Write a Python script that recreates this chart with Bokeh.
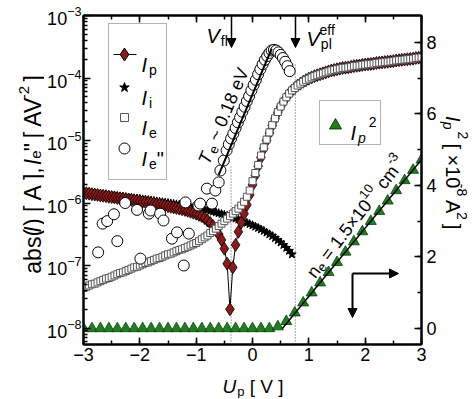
import math
import numpy as np
from bokeh.plotting import figure
from bokeh.layouts import row, column
from bokeh.models import (Range1d, LinearAxis, LinearScale, SingleIntervalTicker, FixedTicker,
                          Label, BoxAnnotation, Arrow, NormalHead)
from bokeh.embed import file_html
from bokeh.resources import INLINE

FONT = "Liberation Sans"

# ---------------- data ----------------
U_p = np.round(np.linspace(-3.0, 3.0, 121), 2)          # probe voltage sweep, 0.05 V

# log10 |I_p| [A]
IP_LOG = [-5.84, -5.845, -5.85, -5.86, -5.865, -5.87, -5.88, -5.885, -5.89, -5.90,
          -5.905, -5.91, -5.92, -5.925, -5.93, -5.94, -5.945, -5.95, -5.96, -5.965,
          -5.97, -5.98, -5.985, -5.99, -6.00, -6.01, -6.015, -6.025, -6.03, -6.04,
          -6.05, -6.06, -6.07, -6.08, -6.09, -6.10, -6.11, -6.125, -6.14, -6.155,
          -6.17, -6.19, -6.21, -6.24, -6.28, -6.32, -6.37, -6.43, -6.50, -6.59,
          -6.73, -6.97, -7.70, -7.03, -6.67, -6.46, -6.31, -6.17, -6.03, -5.87,
          -5.71, -5.56, -5.41, -5.27, -5.13, -5.00, -4.88, -4.76, -4.65, -4.55,
          -4.46, -4.38, -4.31, -4.25, -4.20,
          -4.16, -4.12, -4.09, -4.06, -4.035, -4.01, -3.99, -3.97, -3.955, -3.94,
          -3.925, -3.91, -3.895, -3.88, -3.87, -3.86, -3.85, -3.84, -3.835, -3.83,
          -3.82, -3.81, -3.805, -3.80, -3.79, -3.785, -3.78, -3.775, -3.77, -3.76,
          -3.755, -3.75, -3.745, -3.74, -3.735, -3.73, -3.72, -3.715, -3.71, -3.705,
          -3.70, -3.695, -3.69, -3.68, -3.675, -3.67]

# log10 I_e [A]
IE_LOG = [-7.36, -7.34, -7.32, -7.30, -7.29, -7.27, -7.25, -7.23, -7.21, -7.20,
          -7.18, -7.16, -7.14, -7.12, -7.11, -7.09, -7.07, -7.05, -7.03, -7.02,
          -7.00, -6.98, -6.96, -6.95, -6.93, -6.91, -6.89, -6.88, -6.86, -6.84,
          -6.82, -6.81, -6.79, -6.77, -6.75, -6.74, -6.72, -6.70, -6.68, -6.66,
          -6.64, -6.61, -6.58, -6.55, -6.52, -6.48, -6.45, -6.41, -6.37, -6.33,
          -6.29, -6.25, -6.21, -6.17, -6.13, -6.09, -6.04, -5.98, -5.90, -5.80,
          -5.65, -5.52, -5.39, -5.24, -5.11, -4.985, -4.87, -4.75, -4.645, -4.545,
          -4.457, -4.378, -4.308, -4.249, -4.199,
          -4.16, -4.12, -4.09, -4.06, -4.035, -4.01, -3.99, -3.97, -3.955, -3.94,
          -3.925, -3.91, -3.895, -3.88, -3.87, -3.86, -3.85, -3.84, -3.835, -3.83,
          -3.82, -3.81, -3.805, -3.80, -3.79, -3.785, -3.78, -3.775, -3.77, -3.76,
          -3.755, -3.75, -3.745, -3.74, -3.735, -3.73, -3.72, -3.715, -3.71, -3.705,
          -3.70, -3.695, -3.69, -3.68, -3.675, -3.67]

# |I_i| in units of 1e-7 A, from -3.00 V to 0.70 V
U_i = U_p[:75]
II_E7 = [14.80, 14.64, 14.48, 14.32, 14.16, 14.00, 13.84, 13.68, 13.52, 13.36,
         13.20, 13.04, 12.88, 12.72, 12.56, 12.40, 12.24, 12.08, 11.92, 11.76,
         11.60, 11.44, 11.28, 11.12, 10.96, 10.80, 10.64, 10.48, 10.32, 10.16,
         10.00, 9.84, 9.68, 9.52, 9.36, 9.20, 9.04, 8.88, 8.72, 8.56,
         8.40, 8.24, 8.08, 7.92,
         7.71, 7.50, 7.30, 7.09, 6.88, 6.68, 6.47, 6.26, 6.06, 5.85,
         5.64, 5.44, 5.23, 5.02, 4.82, 4.61, 4.40, 4.20, 3.99, 3.78,
         3.58, 3.37, 3.16, 2.96, 2.75, 2.54, 2.34, 2.13, 1.92, 1.72, 1.51]

# I_e'' [A V^-2] (log10), only the positive points appear
U_E2 = [-2.74, -2.66, -2.58, -2.46, -2.40, -2.26, -2.05, -1.99, -1.84, -1.81,
        -1.64, -1.58, -1.43, -1.34, -1.22, -1.19, -1.13, -0.96, -0.93, -0.81,
        -0.72, -0.66, -0.60, -0.57, -0.51, -0.46, -0.42, -0.38, -0.34, -0.30,
        -0.26, -0.22, -0.18, -0.14, -0.10, -0.06, -0.02, 0.02, 0.06, 0.10,
        0.14, 0.18, 0.22, 0.26, 0.30, 0.34, 0.38, 0.42, 0.46, 0.50,
        0.54, 0.58, 0.62, 0.66]
IE2_LOG = [-6.79, -6.33, -6.29, -6.18, -6.61, -6.00, -6.11, -6.89, -6.17, -6.12,
           -6.17, -6.28, -6.57, -6.47, -7.00, -5.99, -6.49, -6.04, -6.01, -5.77,
           -6.01, -5.80, -5.67, -5.48, -5.32, -5.16, -5.06, -4.97, -4.89, -4.80,
           -4.71, -4.63, -4.54, -4.46, -4.37, -4.29, -4.20, -4.11, -4.03, -3.94,
           -3.86, -3.78, -3.71, -3.65, -3.60, -3.56, -3.55, -3.56, -3.59, -3.63,
           -3.68, -3.74, -3.81, -3.89]

# exponential fit to I_e'' (T_e ~ 0.18 eV)
TE_FIT_U = [-0.60, 0.34]
TE_FIT_LOG = [-5.55, -3.53]

# I_p^2 in units of 1e-8 A^2 (right axis), 0.15 V steps
U_sq = np.round(np.linspace(-3.0, 3.0, 41), 2)
IP2 = [0.0, 0.0, 0.0, 0.0, 0.0, 0.0, 0.0, 0.0, 0.0, 0.0,
       0.0, 0.0, 0.0, 0.0, 0.0, 0.0, 0.0, 0.0, 0.0, 0.0,
       0.0, 0.0, 0.0, 0.05, 0.20, 0.44, 0.72, 1.00, 1.28, 1.57,
       1.85, 2.14, 2.43, 2.71, 3.00, 3.28, 3.57, 3.86, 4.14, 4.43, 4.72]
NE_FIT_U = [0.53, 3.0]
NE_FIT_V = [0.0, 4.72]

V_FL, V_PL = -0.38, 0.76
V_FL_TOP, V_PL_TOP = 3.8e-6, 1.7e-4

I_p = 10 ** np.array(IP_LOG)
I_e = 10 ** np.array(IE_LOG)
I_i = np.array(II_E7) * 1e-7
I_e2 = 10 ** np.array(IE2_LOG)
TE_FIT_I = 10 ** np.array(TE_FIT_LOG)

# ---------------- layout (page pixels) ----------------
LEFT, RIGHT, TOP, BOTTOM = 80, 418, 15, 344      # frame edges
MAIN_X0, MAIN_X1 = 44, 436                        # main figure spans these page x
MAIN_H = 367                                      # main figure height (page y 0..367)
PAGE_W, PAGE_H = 474, 398
XMIN, XMAX = -3.0, 3.0
YLO, YHI = -8.264, -3.0
RLO, RHI = -0.448, 8.755


def X(px):
    return XMIN + (px - LEFT) / (RIGHT - LEFT) * (XMAX - XMIN)


def Y(py):
    return 10 ** (YHI - (py - TOP) / (BOTTOM - TOP) * (YHI - YLO))


p = figure(frame_width=RIGHT - LEFT, frame_height=BOTTOM - TOP,
           x_range=Range1d(XMIN, XMAX), y_range=Range1d(10 ** YLO, 10 ** YHI),
           y_axis_type="log", output_backend="svg", toolbar_location=None,
           min_border_left=LEFT - MAIN_X0, min_border_top=TOP,
           min_border_right=MAIN_X1 - RIGHT, min_border_bottom=MAIN_H - BOTTOM)
p.extra_y_ranges = {"r": Range1d(RLO, RHI)}
p.extra_y_scales = {"r": LinearScale()}
p.grid.visible = False
p.outline_line_color = "black"
p.outline_line_width = 2
p.background_fill_color = "white"
p.border_fill_color = "white"


def style_axis(ax, standoff):
    ax.axis_line_width = 2
    ax.axis_line_color = "black"
    ax.major_tick_in = 7
    ax.major_tick_out = 0
    ax.minor_tick_in = 4
    ax.minor_tick_out = 0
    ax.major_tick_line_width = 1.5
    ax.minor_tick_line_width = 1.5
    ax.major_label_text_font = FONT
    ax.major_label_text_font_size = "18px"
    ax.major_label_text_color = "black"
    ax.major_label_standoff = standoff


xb = p.xaxis[0]
xb.ticker = SingleIntervalTicker(interval=1, num_minor_ticks=2)
style_axis(xb, 3)

xt = LinearAxis(ticker=SingleIntervalTicker(interval=1, num_minor_ticks=2))
style_axis(xt, 0)
xt.major_label_text_font_size = "1px"
xt.major_label_text_color = None
p.add_layout(xt, "above")

yl = p.yaxis[0]
yl.ticker = FixedTicker(ticks=[1e-8, 1e-7, 1e-6, 1e-5, 1e-4, 1e-3],
                        minor_ticks=[k * 10.0 ** e for e in range(-9, -3) for k in range(2, 10)])
style_axis(yl, 2)

yr = LinearAxis(y_range_name="r", ticker=SingleIntervalTicker(interval=2, num_minor_ticks=2))
style_axis(yr, 5)
p.add_layout(yr, "right")

# ---------------- glyphs ----------------
y_bot = 10 ** YLO
p.segment(x0=[V_FL, V_PL], y0=[y_bot, y_bot], x1=[V_FL, V_PL], y1=[V_FL_TOP, V_PL_TOP],
          line_color="#555555", line_width=1, line_dash="1 2")

p.scatter(U_i, I_i, marker="star", size=9, fill_color="black", line_color="black")
p.line(U_p, I_p, line_color="black", line_width=1)
p.scatter(U_p, I_p, marker="diamond", size=13, fill_color="#8b1a1a", line_color="black", line_width=0.8)
p.scatter(U_p, I_e, marker="square", size=7, fill_color="white", line_color="#555555", line_width=1)
p.scatter(U_E2, I_e2, marker="circle", size=11, fill_color="white", line_color="black", line_width=1)
p.line(TE_FIT_U, TE_FIT_I, line_color="black", line_width=2)

p.scatter(U_sq, IP2, marker="triangle", size=11, fill_color="#1f7f1f", line_color="#0b3d0b",
          line_width=0.8, y_range_name="r")
p.line(NE_FIT_U, NE_FIT_V, line_color="black", line_width=1.5, y_range_name="r")


# ---------------- text figures for the axis titles ----------------
def text_fig(w, h):
    f = figure(width=w, height=h, x_range=Range1d(0, w), y_range=Range1d(0, h),
               output_backend="svg", toolbar_location=None, title=None,
               min_border=0, min_border_left=0, min_border_right=0,
               min_border_top=0, min_border_bottom=0,
               x_axis_location=None, y_axis_location=None)
    f.outline_line_color = None
    f.grid.visible = False
    f.background_fill_color = "white"
    f.border_fill_color = "white"
    return f


f_left = text_fig(MAIN_X0, MAIN_H)
f_right = text_fig(PAGE_W - MAIN_X1, MAIN_H)
f_bot = text_fig(PAGE_W, PAGE_H - MAIN_H)

# page px -> figure coordinates
MAPS = {
    "main": (p, X, Y),
    "left": (f_left, lambda px: px, lambda py: MAIN_H - py),
    "right": (f_right, lambda px: px - MAIN_X1, lambda py: MAIN_H - py),
    "bottom": (f_bot, lambda px: px, lambda py: PAGE_H - py),
}

W = {' ': 278, '"': 355, '(': 333, ')': 333, ',': 278, '-': 333, '.': 278, '=': 584,
     '~': 584, '\u00d7': 584, 'A': 667, 'I': 278, 'T': 611, 'U': 722, 'V': 667,
     '[': 278, ']': 278, 'a': 556, 'b': 556, 'c': 500, 'e': 556, 'f': 278, 'i': 222,
     'l': 222, 'm': 833, 'n': 556, 'p': 556, 's': 500}


def tw(s, size):
    return sum(W.get(c, 556) for c in s) * size / 1000.0


def rich(runs, x0, y0, angle_deg=0.0, where="main"):
    """runs: (text, size_px, baseline_shift_px, style, gap_px); x0, y0 in page px"""
    fig, fx, fy = MAPS[where]
    th = math.radians(angle_deg)
    ux, uy = math.cos(th), -math.sin(th)
    nx, ny = -math.sin(th), -math.cos(th)
    pos = 0.0
    for run in runs:
        text, size, dy, fstyle = run[:4]
        gap = run[4] if len(run) > 4 else 0.0
        pos += gap
        lead = len(text) - len(text.lstrip(" "))
        pos += tw(text[:lead], size)          # SVG drops leading blanks: skip them here
        body = text.strip(" ")
        px = x0 + pos * ux + dy * nx
        py = y0 + pos * uy + dy * ny
        fig.add_layout(Label(x=fx(px), y=fy(py), text=body, angle=th, angle_units="rad",
                             text_font=FONT, text_font_size=f"{size}px",
                             text_font_style=fstyle, text_color="black",
                             text_baseline="alphabetic", text_align="left"))
        pos += tw(text[lead:], size)


# axis titles
rich([("U", 19, 0, "italic"), ("p", 13, -5, "normal", 1), (" [ V ]", 19, 0, "normal")],
     222, 386, 0, "bottom")
rich([("abs(", 23, 0, "normal"), ("I", 23, 0, "italic", 1), (") [ A ], ", 23, 0, "normal", 1),
      ("I", 23, 0, "italic"), ("e", 15, -3, "normal", 1), ('"', 23, 0, "normal"),
      (" [ AV", 23, 0, "normal"), ("-2", 15, 9, "normal"), (" ]", 23, 0, "normal")],
     32, 288, 90, "left")
rich([("I", 20, 0, "italic"), ("p", 14, -5, "italic", 1), ("2", 14, 10, "normal", 3),
      (" [ \u00d710", 20, 0, "normal"), ("-8", 14, 9, "normal"), (" A", 20, 0, "normal"),
      ("2", 14, 9, "normal"), (" ]", 20, 0, "normal")],
     449, 112, -90, "right")

# arrows and V labels
for xa in (228, 292):
    p.add_layout(Arrow(x_start=X(xa), y_start=Y(15), x_end=X(xa), y_end=Y(47),
                       line_width=1.5, line_color="black",
                       end=NormalHead(size=9, fill_color="black", line_color="black")))
rich([("V", 20, 0, "italic"), ("fl", 14, -5, "normal", 1)], 203, 35)
rich([("V", 20, 0, "italic"), ("pl", 14, -5, "normal", 1)], 303, 38)
rich([("eff", 14, 0, "normal")], 316, 29)

# rotated annotations
rich([("T", 18, 0, "italic"), ("e", 13, -4, "normal", 2), (" ~ 0.18 eV", 18, 0, "normal")],
     200, 163, 67)
rich([("n", 18, 0, "normal"), ("e", 13, -4, "normal"), (" = 1.5\u00d710", 18, 0, "normal"),
      ("10", 13, 8, "normal"), (" cm", 18, 0, "normal"), ("-3", 13, 8, "normal")],
     307, 275, 52)

# L-shaped direction arrow (bottom right)
p.add_layout(Arrow(x_start=X(349), y_start=Y(273), x_end=X(395), y_end=Y(273), line_width=2,
                   end=NormalHead(size=9, fill_color="black", line_color="black")))
p.add_layout(Arrow(x_start=X(349), y_start=Y(273), x_end=X(349), y_end=Y(317), line_width=2,
                   end=NormalHead(size=9, fill_color="black", line_color="black")))

# legend 1
p.add_layout(BoxAnnotation(left=X(105), right=X(163), top=Y(23), bottom=Y(179),
                           fill_color="white", fill_alpha=1, line_color="black",
                           line_width=1, level="underlay"))
p.line([X(110), X(133)], [Y(54), Y(54)], line_color="black", line_width=1)
p.scatter([X(121)], [Y(54)], marker="diamond", size=13, fill_color="#8b1a1a", line_color="black")
p.scatter([X(121)], [Y(87)], marker="star", size=10, fill_color="black", line_color="black")
p.scatter([X(121)], [Y(117)], marker="square", size=8, fill_color="white", line_color="#555555")
p.scatter([X(121)], [Y(148)], marker="circle", size=11, fill_color="white", line_color="black")
rich([("I", 20, 0, "italic"), ("p", 14, -5, "normal", 2)], 138, 64)
rich([("I", 20, 0, "italic"), ("i", 14, -5, "normal", 2)], 138, 97)
rich([("I", 20, 0, "italic"), ("e", 14, -5, "normal", 2)], 138, 127)
rich([("I", 20, 0, "italic"), ("e", 14, -5, "normal", 2), ('"', 20, 0, "normal")], 138, 158)

# legend 2
p.add_layout(BoxAnnotation(left=X(316), right=X(377), top=Y(100), bottom=Y(144),
                           fill_color="white", fill_alpha=1, line_color="black",
                           line_width=1, level="underlay"))
p.scatter([X(332)], [Y(125)], marker="triangle", size=12, fill_color="#1f7f1f", line_color="#0b3d0b")
rich([("I", 20, 0, "italic"), ("p", 14, -5, "italic", 2), ("2", 14, 11, "normal", 3)], 347, 132)

layout = column(row(f_left, p, f_right), f_bot)
open("out.html", "w").write(file_html(layout, INLINE, title="Langmuir probe"))
